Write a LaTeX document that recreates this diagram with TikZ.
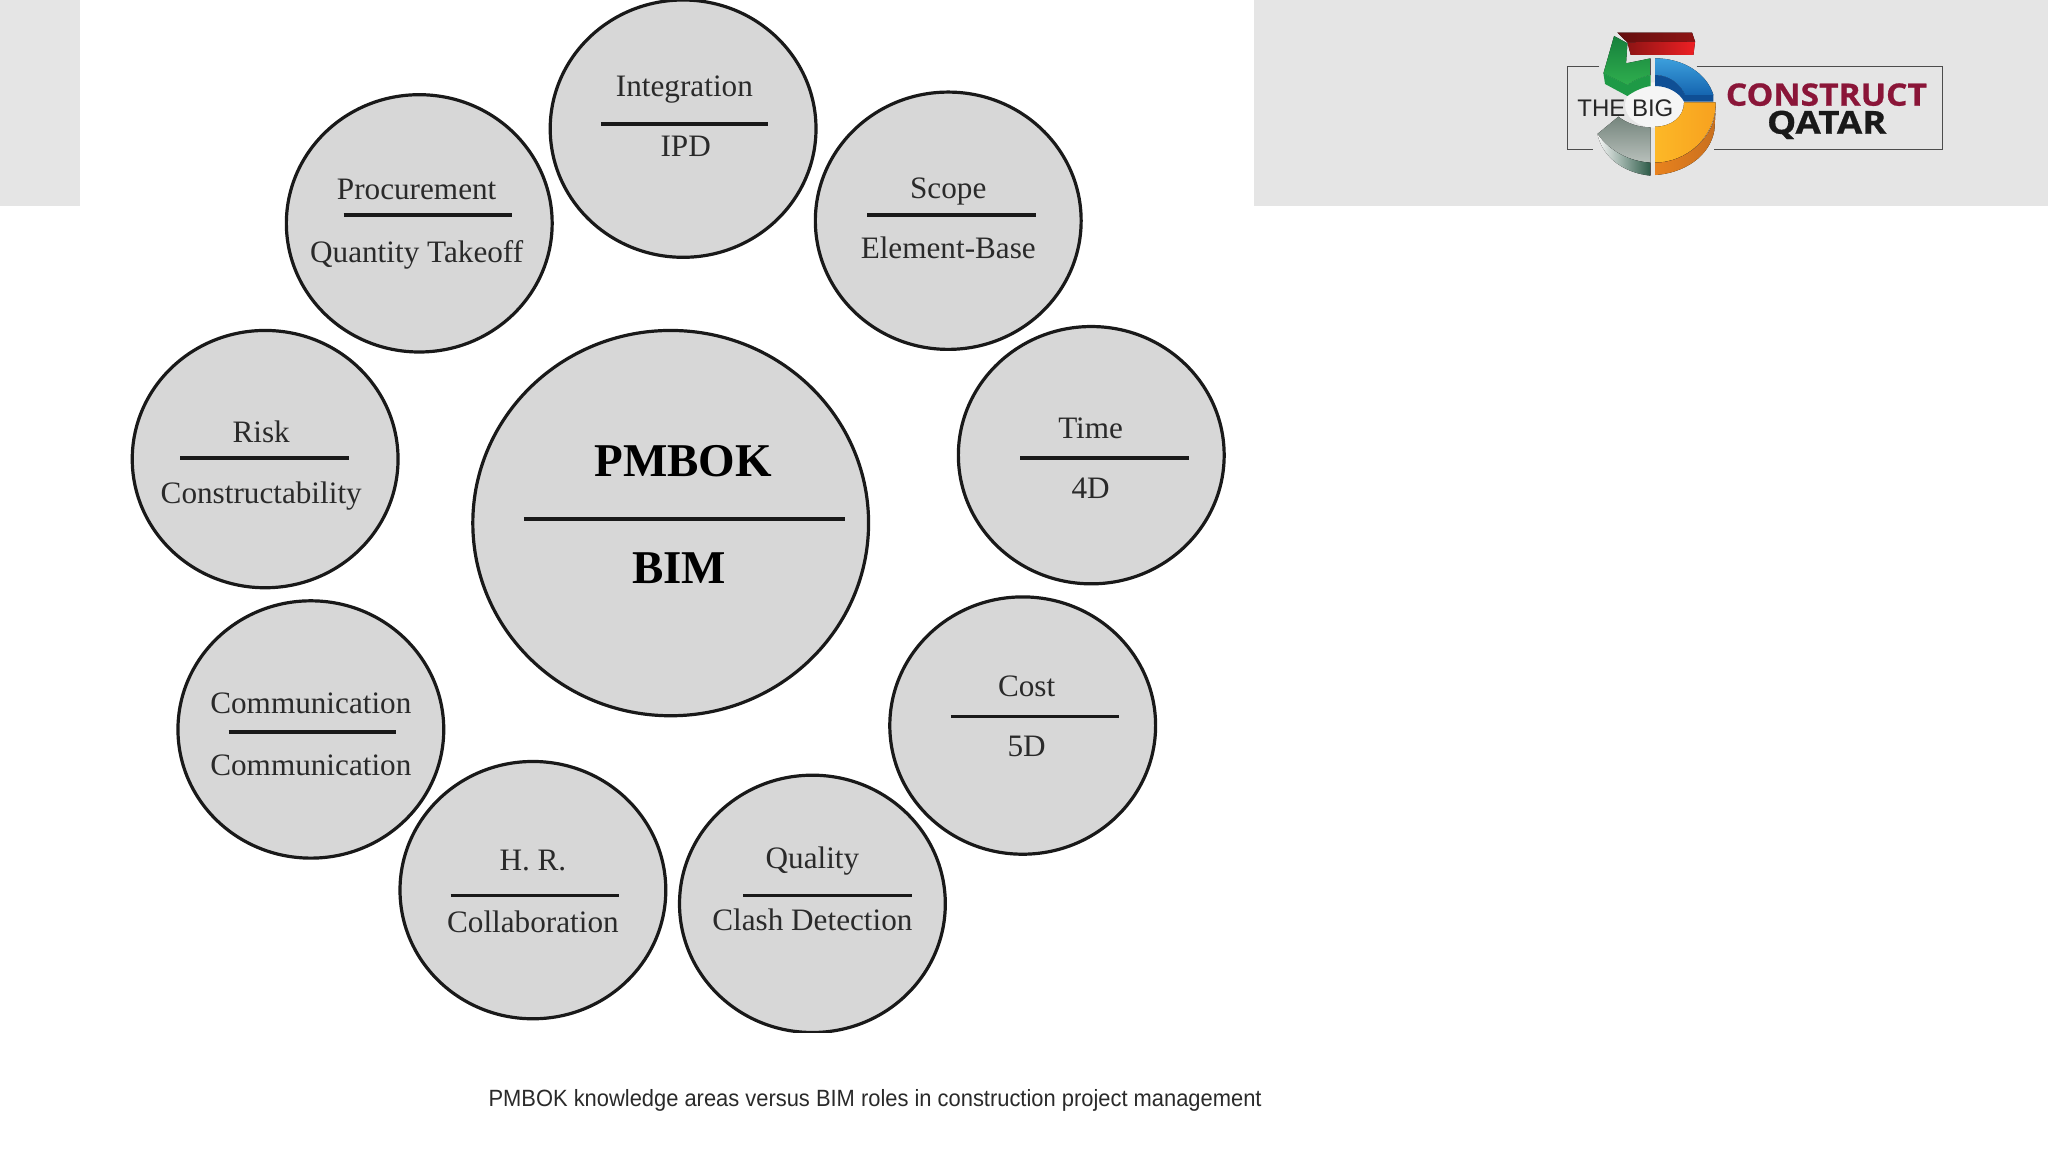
\documentclass[tikz,border=0pt]{standalone}
\usepackage{fontspec}
\setmainfont{Liberation Serif}
\newfontfamily\capfont[FakeStretch=0.932]{Liberation Sans}
\newfontfamily\bigfont{Liberation Sans}
\newfontfamily\logofont[FakeBold=0.8,FakeStretch=1.09]{Open Sans}
\newfontfamily\logofontb[FakeBold=0.8,FakeStretch=1.16]{Open Sans}
\usetikzlibrary{shapes.geometric}
\definecolor{panel}{HTML}{E5E5E5}
\definecolor{bub}{HTML}{D7D7D7}
\definecolor{ink}{HTML}{2A2A2A}
\definecolor{maroon5}{HTML}{8A1538}
\definecolor{gA}{HTML}{16803C}
\definecolor{gB}{HTML}{2FAE4E}
\definecolor{gC}{HTML}{1E9A46}
\definecolor{blA}{HTML}{3C9FDC}
\definecolor{blB}{HTML}{1565B0}
\definecolor{blC}{HTML}{0F4F95}
\definecolor{yeA}{HTML}{FDB827}
\definecolor{yeB}{HTML}{F7A11F}
\definecolor{orA}{HTML}{E8821E}
\definecolor{orB}{HTML}{C9701E}
\definecolor{grA}{HTML}{75857D}
\definecolor{grB}{HTML}{B8C0BB}
\definecolor{grC}{HTML}{2C5A47}
\definecolor{reA}{HTML}{8E1414}
\definecolor{reC}{HTML}{EE2024}
\newlength{\mylen}\setlength{\mylen}{.65306pt}
\tikzset{
  bubble/.style={ellipse,draw=black!90,fill=bub,line width=1.6pt,inner sep=0pt,minimum width=203.5\mylen,minimum height=197\mylen},
  bigbubble/.style={bubble,minimum width=303\mylen,minimum height=295\mylen},
  lab/.style={text=ink,font=\fontsize{15.6}{18}\selectfont,inner sep=0pt,text height=.66em,text depth=0pt,yshift=-2pt},
  biglab/.style={text=black,font=\fontsize{23.5}{28}\selectfont\bfseries,inner sep=0pt,text height=.66em,text depth=0pt,yshift=-4.6pt},
  divider/.style={line width=1.8pt,draw=black!90},
  logobox/.style={draw=black!70,line width=.45pt},
}
\begin{document}
\begin{tikzpicture}[x=.65306pt,y=-.65306pt]
\path[use as bounding box,fill=white] (0,0) rectangle (1568,882.76);
\fill[panel] (0,0) rectangle (61.5,158);
\fill[panel] (960,0) rectangle (1568,158);
\begin{scope}
\clip (0,0) rectangle (1568,790.5);
\node[bubble] (int) at (523,98.5) {};
\node[bubble] (sco) at (726,169) {};
\node[bubble] (pro) at (321,171) {};
\node[bubble] (tim) at (835.5,348.5) {};
\node[bubble] (ris) at (203,351.5) {};
\node[bigbubble] (pmb) at (513.5,400.5) {};
\node[bubble] (cos) at (783,555.5) {};
\node[bubble] (com) at (238,558.5) {};
\node[bubble] (hr) at (408,681.5) {};
\node[bubble] (qua) at (622,692) {};
\end{scope}
\node[lab] (intt) at (524,66) {Integration};
\node[lab] (intb) at (525,112) {IPD};
\node[lab] (scot) at (726,144) {Scope};
\node[lab] (scob) at (726,190) {Element-Base};
\node[lab] (prot) at (319,145) {Procurement};
\node[lab] (prob) at (319,193) {Quantity Takeoff};
\node[lab] (timt) at (835,327.5) {Time};
\node[lab] (timb) at (835,373.5) {4D};
\node[lab] (rist) at (200,331) {Risk};
\node[lab] (risb) at (200,377) {Constructability};
\node[lab] (cost) at (786,525) {Cost};
\node[lab] (cosb) at (786,571) {5D};
\node[lab] (comt) at (238,538) {Communication};
\node[lab] (comb) at (238,586) {Communication};
\node[lab] (hrt) at (408,658) {H. R.};
\node[lab] (hrb) at (408,706) {Collaboration};
\node[lab] (quat) at (622,657) {Quality};
\node[lab] (quab) at (622,704) {Clash Detection};
\node[biglab] (pmbt) at (523,353) {PMBOK};
\node[biglab] (pmbb) at (520,435) {BIM};
\coordinate (il) at (460,95); \coordinate (ir) at (588,95);
\coordinate (sl) at (664,164.5); \coordinate (sr) at (793,164.5);
\coordinate (pl) at (263,164.5); \coordinate (pr) at (392,164.5);
\coordinate (tl) at (781,350.5); \coordinate (tr) at (910,350.5);
\coordinate (rl) at (138,350.5); \coordinate (rr) at (267,350.5);
\coordinate (cl) at (728,548.5); \coordinate (cr) at (857,548.5);
\coordinate (ml) at (175,560.5); \coordinate (mr) at (303,560.5);
\coordinate (hl) at (345,685.5); \coordinate (hr2) at (474,685.5);
\coordinate (ql) at (569,685.5); \coordinate (qr) at (698,685.5);
\coordinate (bl) at (401,397.5); \coordinate (br) at (647,397.5);
\draw[divider] (il)--(ir); \draw[divider] (sl)--(sr); \draw[divider] (pl)--(pr);
\draw[divider] (tl)--(tr); \draw[divider] (rl)--(rr); \draw[divider] (cl)--(cr);
\draw[divider] (ml)--(mr); \draw[divider] (hl)--(hr2); \draw[divider] (ql)--(qr);
\draw[divider] (bl)--(br);
\node[text=ink,font=\capfont\fontsize{11.75}{14}\selectfont,inner sep=0pt,anchor=base] (cap) at (670,847) {PMBOK knowledge areas versus BIM roles in construction project management};
% logo, in full-size zoom coordinates
\begin{scope}[x=.16667pt,y=-.16667pt,shift={(4620,30)}]
\draw[logobox] (178,170) -- (82,170) -- (82,418) -- (158,418);
\draw[logobox] (470,170) -- (1208,170) -- (1208,418) -- (522,418);
\fill[black!4] (345,285) ellipse [x radius=90,y radius=68];
% red bar
\fill[left color=reA!70!black,right color=reA] (232,68) -- (456,68) -- (465,95) -- (262,97) -- cycle;
\fill[left color=reA,right color=reC] (262,97) -- (465,95) -- (460,135) -- (272,135) -- cycle;
% green
\fill[top color=gA,bottom color=gB] (222,78) -- (262,100) -- (258,160) -- (332,145) -- (332,195) .. controls (305,200) and (280,212) .. (262,225) -- (190,190) -- cycle;
\fill[gC] (190,190) -- (262,225) .. controls (280,212) and (305,200) .. (332,195) -- (332,228) .. controls (305,232) and (280,245) .. (262,258) -- (195,222) -- cycle;
% blue
\fill[top color=blA,bottom color=blB] (345,145) .. controls (430,145) and (500,190) .. (520,255) -- (435,255) .. controls (420,220) and (385,195) .. (345,195) -- cycle;
\fill[blC] (345,195) .. controls (385,195) and (420,220) .. (435,255) -- (520,255) -- (520,275) -- (432,275) .. controls (420,250) and (385,228) .. (345,228) -- cycle;
% yellow and orange
\fill[left color=yeA,right color=yeB] (432,277) -- (527,277) .. controls (527,380) and (440,458) .. (345,458) -- (345,350) .. controls (395,350) and (432,320) .. (432,277) -- cycle;
\fill[left color=orA,right color=orB] (345,458) .. controls (440,458) and (527,380) .. (527,290) -- (523,360) .. controls (510,440) and (430,490) .. (345,495) -- cycle;
% grey
\fill[top color=grA,bottom color=grB] (172,372) -- (235,320) .. controls (260,340) and (295,352) .. (332,352) -- (332,458) .. controls (270,455) and (210,425) .. (172,372) -- cycle;
\fill[left color=black!3,right color=grC] (172,372) .. controls (210,425) and (270,455) .. (332,458) -- (332,497) .. controls (260,490) and (190,450) .. (172,372) -- cycle;
\node[text=black!85,font=\bigfont\fontsize{12}{14}\selectfont,inner sep=0pt,anchor=base] (big) at (256,318) {THE BIG};
\node[text=maroon5,font=\logofont\bfseries\fontsize{15.4}{16}\selectfont,inner sep=0pt,anchor=base] (con) at (859,287) {CONSTRUCT};
\node[text=black!90,font=\logofontb\bfseries\fontsize{15.8}{16}\selectfont,inner sep=0pt,anchor=base] (qat) at (860,371) {QATAR};
\end{scope}
\end{tikzpicture}
\end{document}
